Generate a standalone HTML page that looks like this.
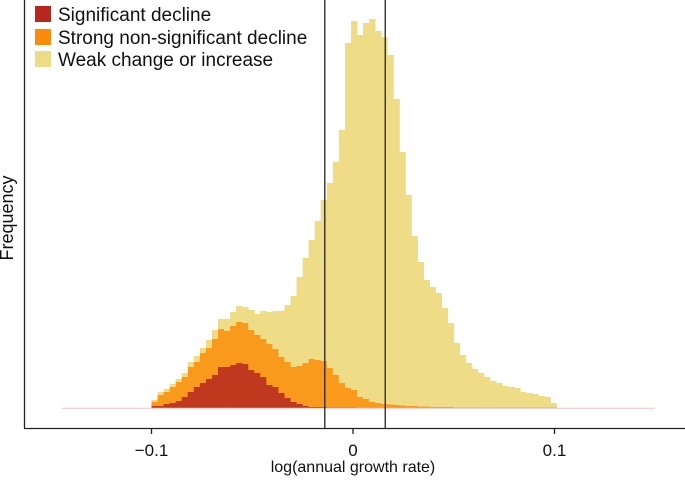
<!DOCTYPE html>
<html><head><meta charset="utf-8"><style>
html,body{margin:0;padding:0;background:#fff;}
svg{display:block;font-family:"Liberation Sans",Arial,sans-serif;}
</style></head><body>
<svg id="chart" width="685" height="487" viewBox="0 0 685 487">
<g id="bars"></g>
<line x1="62" y1="408.3" x2="655" y2="408.3" stroke="#f4c6c0" stroke-width="1"/>
<g id="vlines"></g>
<line x1="24.5" y1="0" x2="24.5" y2="428.5" stroke="#222" stroke-width="1.3"/>
<line x1="24" y1="428.5" x2="685" y2="428.5" stroke="#222" stroke-width="1.3"/>
<g id="ticks"></g>
<text x="353" y="472" font-size="16" text-anchor="middle" fill="#111">log(annual growth rate)</text>
<text transform="translate(13,218) rotate(-90)" font-size="18" text-anchor="middle" fill="#111">Frequency</text>
<g>
<rect x="35" y="6" width="16" height="16" fill="#b8271f"/>
<text x="58" y="21" font-size="19" fill="#111">Significant decline</text>
<rect x="35" y="29" width="16" height="16" fill="#fb8c0a"/>
<text x="58" y="44" font-size="19" fill="#111">Strong non-significant decline</text>
<rect x="35" y="51" width="16" height="16" fill="#eedb85"/>
<text x="58" y="66" font-size="19" fill="#111">Weak change or increase</text>
</g>
</svg>
<script>
const binStart = -0.1;
const binWidth = 0.003;
const redVals = [2,2,4,5,7,11,16,21,25,29,33,41,41,43,45,44,38,35,31,23,21,15,10,6,4,2,1,1,1,0.5,0.5,0.5,0.5,0.5,
0.3,0.3,0.3,0.3,0.3,0.3,0.3,0.3,0.3,0.3,0.3,0.3,0.3,0.3,0.3,0.3,0.3,0.3,0.3,0.3,0.3,0.3,0.3,0.3,0.3,0.3,0.3,0.3,0.3,0.3,0.3,0.3,0.3];
const orangeVals = [4.3,11,12,16,19,20,25,25,30,31,36,38,36,39,41,41,40,38,38,41,38,36,36,35,38,43,48,47,46,39.5,32.5,24.5,19.5,17.5,
10.7,8.7,5.7,4.7,3.7,3.2,2.7,2.2,1.7,1.7,1.2,1.2,0.7,0.7,0.7,0.7,0.2,
0.2,0.2,0.2,0.2,0.2,0.2,0.2,0.2,0.2,0.2,0.2,0.2,0.2,0.2,0.2,0.2];
const yellowVals = [1.7,3,3,3,3,4,5,6,5,8,9,10,12,14,16,16,20,21,28,32,38,46,57,71,89,105,119,139,161,185,213,253,345,369,362,376,383,372,367,349.5,306,253.5,211,170,144.5,126.5,120,114,99,84,64.5,
52.5,44.5,38.5,34.5,30.5,26.5,24.5,21.5,20.5,19.5,15.5,14.5,13.5,11.5,10.5,4.5];
const xTicks = [-0.1, 0, 0.1];
const xTickLabels = ["\u22120.1", "0", "0.1"];
const cutoffs = [-0.014, 0.016];

const NS = "http://www.w3.org/2000/svg";
const xScale = v => 353 + v * 2015;
const yScale = v => 408 - v;
const barsG = document.getElementById('bars');
const series = [[redVals, '#c0391f', 'bar-significant'], [orangeVals, '#f99a1c', 'bar-strong'], [yellowVals, '#eedc86', 'bar-weak']];
for (let i = 0; i < redVals.length; i++) {
  let base = 0;
  const x0 = xScale(binStart + i * binWidth), x1 = xScale(binStart + (i + 1) * binWidth);
  for (const [vals, col, nm] of series) {
    const v = vals[i];
    const r = document.createElementNS(NS, 'rect');
    r.setAttribute('x', x0);
    r.setAttribute('width', x1 - x0 + 0.4);
    r.setAttribute('y', yScale(base + v));
    r.setAttribute('height', v);
    r.setAttribute('fill', col);
    
    
    barsG.appendChild(r);
    base += v;
  }
}
const vG = document.getElementById('vlines');
for (const c of cutoffs) {
  const l = document.createElementNS(NS, 'line');
  l.setAttribute('x1', xScale(c)); l.setAttribute('x2', xScale(c));
  l.setAttribute('y1', 0); l.setAttribute('y2', 428);
  l.setAttribute('stroke', '#222'); l.setAttribute('stroke-width', 1.3);
  
  
  vG.appendChild(l);
}
const tG = document.getElementById('ticks');
xTicks.forEach((t, i) => {
  const l = document.createElementNS(NS, 'line');
  l.setAttribute('x1', xScale(t)); l.setAttribute('x2', xScale(t));
  l.setAttribute('y1', 428); l.setAttribute('y2', 434);
  l.setAttribute('stroke', '#222'); l.setAttribute('stroke-width', 1.3);
  
  
  tG.appendChild(l);
  const tx = document.createElementNS(NS, 'text');
  tx.setAttribute('x', xScale(t)); tx.setAttribute('y', 456);
  tx.setAttribute('font-size', 17); tx.setAttribute('text-anchor', 'middle'); tx.setAttribute('fill', '#111');
  tx.textContent = xTickLabels[i];
  
  
  tG.appendChild(tx);
});
</script>
</body></html>
